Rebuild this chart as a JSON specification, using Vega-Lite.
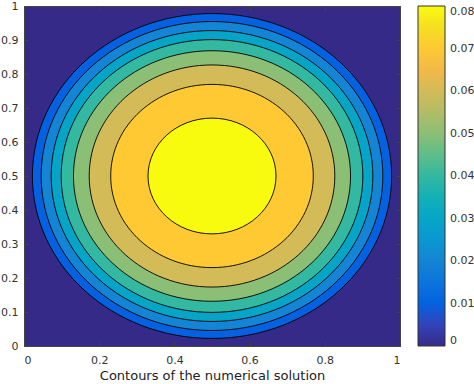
{
  "$schema": "https://vega.github.io/schema/vega-lite/v6.json",
  "width": 376,
  "height": 340,
  "autosize": {"type": "none"},
  "padding": {"left": 24, "top": 6, "right": 74, "bottom": 38},
  "background": "white",
  "config": {
    "view": {"fill": "#352a87", "stroke": "#444444", "strokeWidth": 1},
    "font": "DejaVu Sans",
    "axis": {
      "grid": false,
      "domain": false,
      "ticks": true,
      "tickColor": "#444444",
      "tickSize": -4,
      "labelFont": "DejaVu Sans",
      "labelFontSize": 11,
      "labelColor": "#333333",
      "titleFont": "DejaVu Sans",
      "titleFontSize": 13,
      "titleFontWeight": "normal",
      "titleColor": "#222222"
    }
  },
  "data": {
    "values": [
      {"x": 0.5, "y": 0.5, "level": 0.01, "radius": 0.4777},
      {"x": 0.5, "y": 0.5, "level": 0.02, "radius": 0.4543},
      {"x": 0.5, "y": 0.5, "level": 0.03, "radius": 0.4277},
      {"x": 0.5, "y": 0.5, "level": 0.04, "radius": 0.4011},
      {"x": 0.5, "y": 0.5, "level": 0.05, "radius": 0.3684},
      {"x": 0.5, "y": 0.5, "level": 0.06, "radius": 0.3266},
      {"x": 0.5, "y": 0.5, "level": 0.07, "radius": 0.2694},
      {"x": 0.5, "y": 0.5, "level": 0.08, "radius": 0.1702}
    ]
  },
  "resolve": {"axis": {"x": "independent", "y": "independent"}},
  "layer": [
    {
      "mark": {
        "type": "point",
        "shape": "M -1 0 A 1 0.9043 0 1 0 1 0 A 1 0.9043 0 1 0 -1 0 Z",
        "filled": true,
        "opacity": 1,
        "stroke": "#000000",
        "strokeWidth": 0.9,
        "clip": true
      },
      "encoding": {
        "x": {
          "field": "x",
          "type": "quantitative",
          "scale": {"domain": [0, 1], "nice": false, "zero": false},
          "axis": {
            "orient": "bottom",
            "values": [0, 0.2, 0.4, 0.6, 0.8, 1],
            "format": "~g",
            "labelPadding": 12,
            "title": "Contours of the numerical solution",
            "titlePadding": 4
          }
        },
        "y": {
          "field": "y",
          "type": "quantitative",
          "scale": {"domain": [0, 1], "nice": false, "zero": false},
          "axis": {
            "orient": "left",
            "values": [0, 0.1, 0.2, 0.3, 0.4, 0.5, 0.6, 0.7, 0.8, 0.9, 1],
            "format": "~g",
            "labelPadding": 10,
            "title": null
          }
        },
        "size": {
          "field": "radius",
          "type": "quantitative",
          "scale": {"type": "pow", "exponent": 2, "domain": [0, 0.5], "range": [0, 141376]},
          "legend": null
        },
        "color": {
          "field": "level",
          "type": "quantitative",
          "scale": {
            "domain": [0, 0.005, 0.01, 0.015, 0.02, 0.025, 0.03, 0.035, 0.04, 0.045, 0.05, 0.055, 0.06, 0.065, 0.07, 0.075, 0.08],
            "range": ["#352a87", "#3243b9", "#0462e0", "#0c74dd", "#1484d4", "#0a97d1", "#06a5c8", "#13b0b6", "#33b8a1", "#5ebe89", "#8bbf75", "#b1bd66", "#d3bb58", "#f2b948", "#fec932", "#f5df21", "#f9fb0e"],
            "interpolate": "rgb"
          },
          "legend": {
            "orient": "none",
            "legendX": 394,
            "legendY": 0,
            "direction": "vertical",
            "title": null,
            "padding": 0,
            "gradientLength": 340,
            "gradientThickness": 27,
            "gradientStrokeColor": "#333333",
            "gradientStrokeWidth": 1,
            "values": [0, 0.01, 0.02, 0.03, 0.04, 0.05, 0.06, 0.07, 0.08],
            "format": "~g",
            "labelOffset": 5,
            "labelBaseline": "middle",
            "labelOverlap": false,
            "labelFont": "DejaVu Sans",
            "labelFontSize": 11,
            "labelColor": "#333333"
          }
        },
        "order": {"field": "radius", "sort": "descending"}
      }
    },
    {
      "mark": {"type": "point", "opacity": 0},
      "encoding": {
        "x": {
          "field": "x",
          "type": "quantitative",
          "scale": {"domain": [0, 1], "nice": false, "zero": false},
          "axis": {"orient": "top", "values": [0, 0.2, 0.4, 0.6, 0.8, 1], "labels": false, "title": null}
        },
        "y": {
          "field": "y",
          "type": "quantitative",
          "scale": {"domain": [0, 1], "nice": false, "zero": false},
          "axis": {"orient": "right", "values": [0, 0.1, 0.2, 0.3, 0.4, 0.5, 0.6, 0.7, 0.8, 0.9, 1], "labels": false, "title": null}
        }
      }
    }
  ]
}
